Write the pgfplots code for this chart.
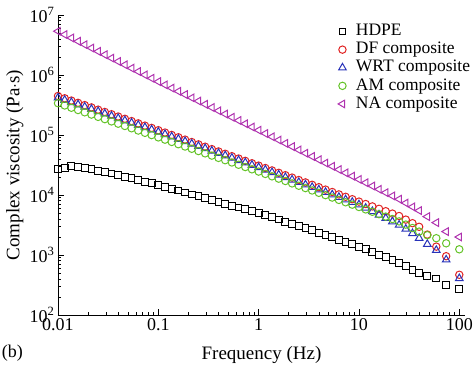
\documentclass[border=0pt]{standalone}
\usepackage{fontspec}
\setmainfont{Liberation Serif}
\usepackage{pgfplots}
\usepackage{pgfplotstable}
\pgfplotsset{compat=1.18}
\definecolor{cred}{RGB}{225,35,35}
\definecolor{cblue}{RGB}{40,50,185}
\definecolor{cgreen}{RGB}{100,195,40}
\definecolor{cmag}{RGB}{175,50,175}
\pgfplotstableread{
f hdpe df wrt am na
0.01 26920 446700 416900 338800 5370000
0.011659 28580 409300 381900 310500 4721000
0.013594 30200 375000 349900 284400 4150000
0.015849 29380 343600 320600 260600 3648000
0.018478 28440 314800 293800 238800 3206000
0.021544 26920 288400 269200 218800 2818000
0.025119 25470 264200 246600 200400 2477000
0.029286 24100 242100 225900 183700 2178000
0.034145 22750 221800 207000 168300 1914000
0.039811 21380 203200 189700 154200 1683000
0.046416 20090 186200 173800 141300 1479000
0.054117 18920 170600 159200 129400 1300000
0.063096 17780 156300 145900 118600 1143000
0.073564 16710 143200 133700 108600 1005000
0.08577 15740 131200 122500 99540 883100
0.1 14790 120200 112200 91200 776200
0.11659 13740 109900 102600 83560 685500
0.13594 12760 100200 93540 76560 605300
0.15849 11860 91620 85510 70150 534600
0.18478 11020 83750 78160 64270 472100
0.21544 10230 76380 71290 58880 416900
0.25119 9506 69820 65160 53950 368100
0.29286 8831 63830 59570 49430 325100
0.34145 8222 58210 54330 45290 287100
0.39811 7656 53210 49660 41500 253500
0.46416 7129 48640 45390 38020 223900
0.54117 6653 44360 41400 34830 197700
0.63096 6194 40550 37840 31920 174600
0.73564 5768 37070 34590 29240 154200
0.8577 5383 33810 31550 26790 136100
1 5012 30900 28840 24550 120200
1.1659 4613 28180 26240 22440 105900
1.3594 4246 25700 23820 20460 93540
1.5849 3908 23440 21680 18710 82410
1.8478 3597 21380 19720 17100 72610
2.1544 3311 19500 17910 15600 64120
2.5119 3048 17780 16290 14260 56490
2.9286 2805 16220 14830 13030 49770
3.4145 2576 14790 13460 11890 43950
3.9811 2355 13490 12250 10860 38730
4.6416 2153 12300 11140 9931 34120
5.4117 1972 11220 10120 9057 30130
6.3096 1803 10230 9204 8279 26550
7.3564 1648 9333 8375 7568 23390
8.577 1510 8511 7603 6902 20650
10 1380 7762 6918 6310 18200
11.659 1245 7079 6067 5754 16030
13.594 1122 6457 5333 5248 14130
15.849 1012 5888 4677 4786 12450
18.478 912 5370 4102 4365 10960
21.544 822 4898 3606 3981 9661
25.119 741 4467 3162 3631 8511
29.286 650 3890 2710 3214 7362
34.145 571 3388 2291 2818 6353
39.811 501 2951 1905 2455 5495
48 447 2188 1514 2138 4365
59 407 1380 1202 1905 3467
74 316 955 832 1567 2455
100 275 468 407 1245 1995
}\visc
\begin{document}
\begin{tikzpicture}
\useasboundingbox (-58pt,-52pt) rectangle (416pt,315pt);
\begin{axis}[
  at={(0pt,0pt)}, anchor=south west,
  scale only axis, width=407pt, height=300pt,
  xmode=log, ymode=log,
  xmin=0.01, xmax=114, ymin=1e2, ymax=1e7,
  axis x line*=bottom, axis y line*=left,
  axis line style={-, line width=0.8pt},
  tick align=inside,
  major tick length=6pt, minor tick length=3.5pt,
  every tick/.style={black, line width=0.7pt},
  xtick={0.01,0.1,1,10,100},
  xticklabels={0.01,0.1,1,10,100},
  ytick={1e2,1e3,1e4,1e5,1e6,1e7},
  yticklabels={10\textsuperscript{2},10\textsuperscript{3},10\textsuperscript{4},10\textsuperscript{5},10\textsuperscript{6},10\textsuperscript{7}},
  tick label style={font=\fontsize{18}{20}\selectfont},
  label style={font=\fontsize{19}{21}\selectfont},
  xlabel={Frequency (Hz)},
  ylabel={Complex viscosity (Pa$\cdot$s)},
  xlabel style={at={(axis description cs:0.5,-0.133)}, anchor=center},
  ylabel style={at={(axis description cs:-0.106,0.5)}, anchor=center},
  clip=false,
  every axis plot/.append style={line width=1pt},
  legend style={draw=none, fill=none, at={(axis description cs:0.68,0.973)}, anchor=north west,
    font=\fontsize{17.5}{19}\selectfont, inner sep=0pt, row sep=1.6pt,
    nodes={inner sep=0pt, text height=12.5pt, text depth=4pt}},
  legend cell align=left,
  legend image code/.code={\path (-7pt,0pt) (13pt,0pt); \draw[#1] plot coordinates {(0pt,0pt)};},
]
\addplot[only marks, mark=square, black, mark size=3.4pt] table[x=f,y=hdpe]{\visc};
\addlegendentry{HDPE}
\addplot[only marks, mark=o, cred, mark size=3.7pt] table[x=f,y=df]{\visc};
\addlegendentry{DF composite}
\addplot[only marks, mark=triangle, cblue, mark size=4.4pt] table[x=f,y=wrt]{\visc};
\addlegendentry{WRT composite}
\addplot[only marks, mark=o, cgreen, mark size=3.7pt] table[x=f,y=am]{\visc};
\addlegendentry{AM composite}
\addplot[only marks, mark=triangle, mark options={rotate=90}, cmag, mark size=4.4pt] table[x=f,y=na]{\visc};
\addlegendentry{NA composite}
\node[font=\fontsize{18}{20}\selectfont] at (axis description cs:-0.112,-0.127) {(b)};
\end{axis}
\end{tikzpicture}
\end{document}
